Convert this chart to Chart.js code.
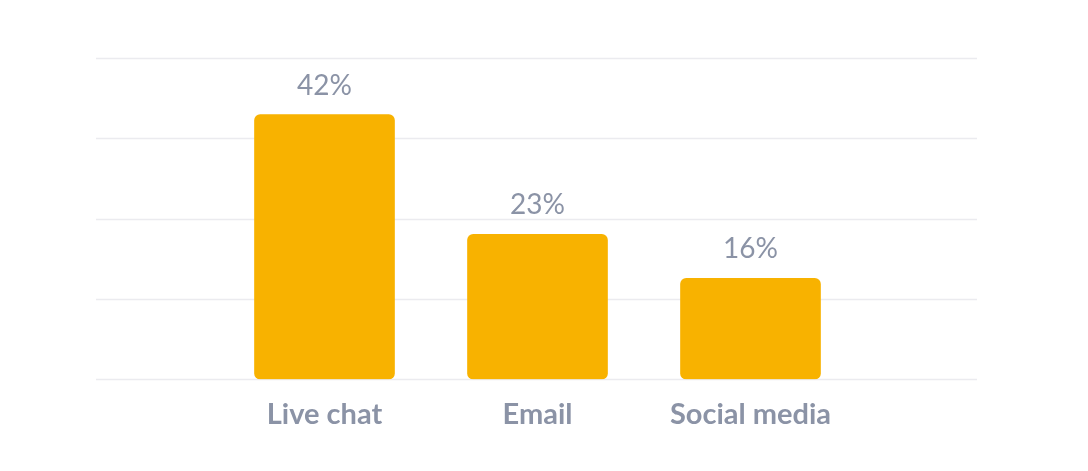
<!DOCTYPE html>
<html>
<head>
<meta charset="utf-8">
<script src="https://cdn.jsdelivr.net/npm/chart.js@4/dist/chart.umd.min.js"></script>
<style>
  html, body { margin: 0; padding: 0; background: #fff; }
  #wrap { width: 1088px; height: 471px; position: relative; }
</style>
</head>
<body>
<div id="wrap"><canvas id="chart"></canvas></div>
<script>
var categories = ["Live chat", "Email", "Social media"]
var shares = [42, 23, 16]
var yMax = 51
var yStep = 12.75

var textGrey = "#8b93a6"
var barYellow = "#f8b200"

// long gridlines, wider than the bar area
var wideGrid = {
    id: 'wideGrid',
    beforeDatasetsDraw: function(chart) {
        var ctx = chart.ctx
        var y = chart.scales.y
        ctx.save()
        ctx.strokeStyle = "#ebebef"
        ctx.lineWidth = 1.5
        for (var t of y.ticks) {
            var py = Math.round(y.getPixelForValue(t.value)) + 0.5
            ctx.beginPath()
            ctx.moveTo(96, py)
            ctx.lineTo(977, py)
            ctx.stroke()
        }
        ctx.restore()
    }
}

var valueLabels = {
    id: 'valueLabels',
    afterDatasetsDraw: function(chart) {
        var ctx = chart.ctx
        var meta = chart.getDatasetMeta(0)
        ctx.save()
        ctx.fillStyle = textGrey
        ctx.font = "400 28px Lato"
        ctx.textAlign = "center"
        ctx.textBaseline = "middle"
        meta.data.forEach(function(bar, i) {
            ctx.fillText(shares[i] + "%", bar.x, bar.y - 29)
        })
        ctx.restore()
    }
}

new Chart(document.getElementById('chart').getContext('2d'), {
    type: 'bar',
    data: {
        labels: categories,
        datasets: [{
            data: shares,
            backgroundColor: barYellow,
            borderRadius: 6,
            borderSkipped: false,
            barThickness: 140
        }]
    },
    options: {
        responsive: true,
        maintainAspectRatio: false,
        animation: false,
        layout: {
            padding: {left: 218, right: 231, top: 58, bottom: 21}
        },
        plugins: {
            legend: {display: false},
            tooltip: {enabled: false}
        },
        scales: {
            x: {
                grid: {display: false, drawTicks: false},
                border: {display: false},
                ticks: {
                    color: textGrey,
                    padding: 18,
                    font: {family: "Lato", size: 29, weight: "bold"}
                }
            },
            y: {
                display: false,
                min: 0,
                max: yMax,
                ticks: {stepSize: yStep}
            }
        }
    },
    plugins: [wideGrid, valueLabels]
})
</script>
</body>
</html>
